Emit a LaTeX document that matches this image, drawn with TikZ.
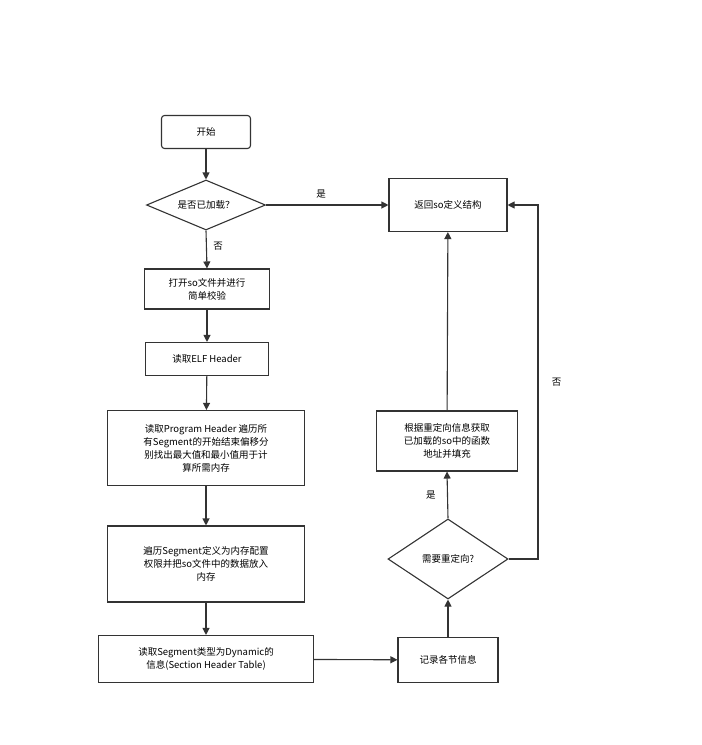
\documentclass[tikz,border=0pt]{standalone}
\usepackage{fontspec}
\setmainfont{Noto Sans CJK SC}
\usetikzlibrary{shapes.geometric,arrows.meta}
\begin{document}
\begin{tikzpicture}[x=1pt,y=-1pt,font=\fontsize{9.5}{13}\selectfont,
  box/.style={draw=black!80,line width=1.1pt,fill=white,align=center,inner sep=0pt},
  dia/.style={draw=black!80,line width=1.1pt,diamond,fill=white,align=center,inner sep=0pt},
  arr/.style={draw=black!80,line width=1.1pt,-{Triangle[length=7pt,width=7pt]}},
  lbl/.style={font=\fontsize{9.5}{12}\selectfont}]
\useasboundingbox (0,0) rectangle (702,745);
\node[box,rounded corners=3pt,minimum width=89pt,minimum height=33pt] (start) at (206,132) {开始};
\node[box,diamond,minimum width=119pt,minimum height=50pt,shape aspect=2.4] (loaded) at (206,205) {是否已加载？};
\node[box,minimum width=118pt,minimum height=53pt] (ret) at (448,205) {返回so定义结构};
\node[box,minimum width=125pt,minimum height=40pt] (open) at (207,289) {打开so文件并进行\\简单校验};
\node[box,minimum width=123pt,minimum height=33pt] (elf) at (207,359) {读取ELF Header};
\node[box,minimum width=197pt,minimum height=75pt] (ph) at (206,448) {读取Program Header 遍历所\\有Segment的开始结束偏移分\\别找出最大值和最小值用于计\\算所需内存};
\node[box,minimum width=197pt,minimum height=76pt] (seg) at (206,564) {遍历Segment定义为内存配置\\权限并把so文件中的数据放入\\内存};
\node[box,minimum width=215pt,minimum height=47pt] (dyn) at (206,659) {读取Segment类型为Dynamic的\\信息(Section Header Table)};
\node[box,minimum width=100pt,minimum height=45pt] (rec) at (448,660) {记录各节信息};
\node[box,diamond,minimum width=120pt,minimum height=80pt,shape aspect=1.5] (reloc) at (448,559) {需要重定向?};
\node[box,minimum width=141pt,minimum height=60pt] (fill) at (447,441) {根据重定向信息获取\\已加载的so中的函数\\地址并填充};
\coordinate (c1) at (538,559);
\coordinate (c2) at (538,205);
\draw[arr] (start) -- (loaded);
\draw[arr] (loaded) -- node[lbl,above=3pt,pos=0.45]{是} (ret);
\draw[arr] (loaded.south) -- node[lbl,right=3pt,pos=0.4]{否} (open.north);
\draw[arr] (open) -- (elf);
\draw[arr] (elf) -- (ph);
\draw[arr] (ph) -- (seg);
\draw[arr] (seg) -- (dyn);
\draw[arr] (dyn) -- (rec);
\draw[arr] (rec) -- (reloc);
\draw[arr] (reloc.north) -- node[lbl,left=8pt]{是} (fill.south);
\draw[arr] (fill) -- (ret);
\draw[arr] (reloc.east) -- (c1) -- node[lbl,right=10pt]{否} (c2) -- (ret.east);
\end{tikzpicture}
\end{document}
